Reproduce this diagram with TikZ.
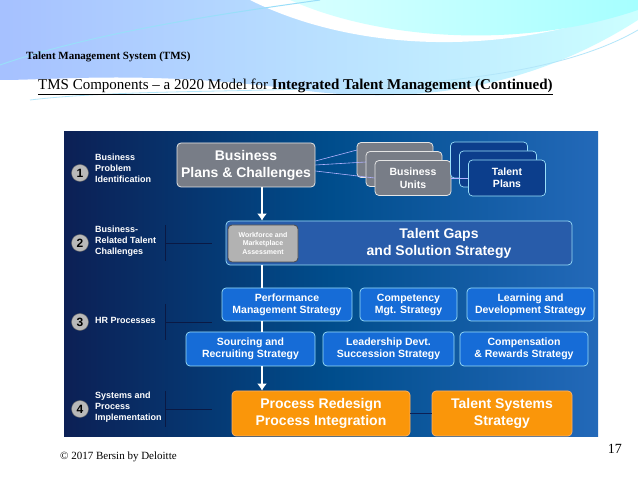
\documentclass[tikz,border=0pt]{standalone}
\usepackage{fontspec}
\setmainfont{Liberation Serif}
\newfontfamily\dsans{Liberation Sans}
\usetikzlibrary{shadings,arrows.meta}
\definecolor{navy}{RGB}{12,32,85}
\definecolor{pblue}{RGB}{35,105,185}
\definecolor{bx}{RGB}{22,108,215}
\definecolor{tpl}{RGB}{12,62,140}
\definecolor{tgf}{RGB}{40,92,170}
\definecolor{gbx}{RGB}{120,125,135}
\definecolor{orng}{RGB}{250,150,10}
\begin{document}
\begin{tikzpicture}[x=1pt,y=-1pt,
 gbox/.style={draw=white!80!gray,line width=0.8pt,rounded corners=4pt,fill=gbx,text=white,font=\dsans\bfseries,align=center,inner sep=0pt},
 bbox/.style={draw=cyan!40!white,line width=0.7pt,rounded corners=4pt,fill=bx,text=white,font=\dsans\bfseries\fontsize{10.5}{12}\selectfont,align=center,inner sep=0pt},
 obox/.style={draw=orange!60!white,line width=0.7pt,rounded corners=4pt,fill=orng,text=white,font=\dsans\bfseries\fontsize{14}{17}\selectfont,align=center,inner sep=0pt},
 num/.style={circle,fill=gray!55,draw=gray!80!black,text=black,font=\dsans\bfseries\fontsize{12}{12}\selectfont,inner sep=0pt,minimum size=17pt},
 lab/.style={text=white,font=\dsans\bfseries\fontsize{9}{11}\selectfont,align=left,anchor=west,inner sep=0pt},
 wline/.style={white!70!blue,line width=0.6pt},
 arr/.style={white,line width=2.5pt,-{Latex[length=7pt,width=10pt]}}
]
\useasboundingbox (0,0) rectangle (638,478);
\fill[white] (0,0) rectangle (638,478);
% top wave
\shade[left color=cyan!30!blue!35,right color=cyan!20] (0,0) -- (638,0) -- (638,20) .. controls (560,70) and (450,110) .. (300,90) .. controls (150,70) and (60,80) .. (0,80) -- cycle;
\fill[white] (250,0) .. controls (350,50) and (500,60) .. (638,5) -- (638,0) -- cycle;
\shade[left color=cyan!15,right color=cyan!35] (290,0) .. controls (380,40) and (520,50) .. (638,10) -- (638,0) -- cycle;
\draw[cyan!40,line width=1pt] (0,65) .. controls (100,30) and (250,10) .. (320,0);
\draw[cyan!30,line width=0.8pt] (30,100) .. controls (200,80) and (500,110) .. (638,30);
\node[anchor=west,font=\fontsize{11}{13}\selectfont\bfseries,inner sep=0] (t1) at (26,57) {Talent Management System (TMS)};
\node[anchor=west,font=\fontsize{15}{17}\selectfont,inner sep=0] (t2) at (38,87) {\underline{TMS Components -- a 2020 Model for \textbf{Integrated Talent Management (Continued)}}};
% panel
\shade[left color=navy,right color=pblue,middle color=blue!45!cyan!55!black] (64,132) rectangle (598,437);
% left labels
\foreach \n/\y in {1/173,2/243,3/322,4/409} \node[num] (n\n) at (80,\y) {\n};
\node[lab] (l1) at (95,168) {Business\\Problem\\Identification};
\node[lab] (l2) at (95,241) {Business-\\Related Talent\\Challenges};
\node[lab] (l3) at (95,320) {HR Processes};
\node[lab] (l4) at (95,407) {Systems and\\Process\\Implementation};
\foreach \y in {243,322,409}{\draw[navy!80!black,line width=0.6pt] (165,\y-18) -- (165,\y+18); \draw[navy!80!black,line width=0.6pt] (165,\y) -- (212,\y);}
% row 1
\node[gbox,font=\dsans\bfseries\fontsize{14}{17}\selectfont,minimum width=138pt,minimum height=44pt] (bp) at (246,165) {Business\\Plans \& Challenges};
\foreach \d in {18,9}{\node[gbox,minimum width=76pt,minimum height=35pt] at (413-\d,178-\d) {};}
\node[gbox,font=\dsans\bfseries\fontsize{10.5}{13}\selectfont,minimum width=76pt,minimum height=35pt] (bu) at (413,178) {Business\\Units};
\foreach \d in {18,9}{\node[bbox,fill=tpl,minimum width=77pt,minimum height=36pt] at (507-\d,178-\d) {};}
\node[bbox,fill=tpl,minimum width=77pt,minimum height=36pt] (tp) at (507,178) {Talent\\Plans};
\draw[wline] (bp.east)+(0,-4) -- (357,150);
\draw[wline] (bp.east) -- (366,162);
\draw[wline] (bp.east)+(0,6) -- (bu.west);
\draw[wline] (bu.east) -- (tp.west);
% row 2
\node[bbox,fill=tgf,minimum width=346pt,minimum height=44pt,font=\dsans\bfseries\fontsize{14}{17}\selectfont] (tg) at (399,243) {\hspace*{80pt}Talent Gaps\\\hspace*{80pt}and Solution Strategy};
\node[gbox,draw=black!70,fill=gray!60,font=\dsans\bfseries\fontsize{7}{8.5}\selectfont,minimum width=70pt,minimum height=37pt] (wf) at (263,243.5) {Workforce and\\Marketplace\\Assessment};
\draw[arr] (bp.south -| 262,0) -- (tg.north -| 262,0);
% row 3
\node[bbox,minimum width=130pt,minimum height=33pt] (pm) at (287,304.5) {Performance\\Management Strategy};
\node[bbox,minimum width=97pt,minimum height=33pt] (cm) at (408.5,304.5) {Competency\\Mgt. Strategy};
\node[bbox,minimum width=127pt,minimum height=33pt] (ld) at (530.5,304.5) {Learning and\\Development Strategy};
\node[bbox,minimum width=129pt,minimum height=34pt] (sr) at (250.5,349) {Sourcing and\\Recruiting Strategy};
\node[bbox,minimum width=131pt,minimum height=34pt] (ls) at (388.5,349) {Leadership Devt.\\Succession Strategy};
\node[bbox,minimum width=128pt,minimum height=34pt] (cr) at (524,349) {Compensation\\\& Rewards Strategy};
% row 4
\node[obox,minimum width=178pt,minimum height=45pt] (pr) at (321,413.5) {Process Redesign\\Process Integration};
\node[obox,minimum width=140pt,minimum height=45pt] (ts) at (502,413.5) {Talent Systems\\Strategy};
\draw[navy,line width=0.6pt] (pr) -- (ts);
\draw[white,line width=2.5pt] (262,265) -- (262,288);
\draw[white,line width=2.5pt] (262,321) -- (262,332);
\draw[arr] (262,366) -- (pr.north -| 262,0);
% footer
\node[anchor=west,font=\fontsize{11}{13}\selectfont,inner sep=0] (ft) at (60,457) {\textcopyright{} 2017 Bersin by Deloitte};
\node[anchor=east,font=\fontsize{14}{16}\selectfont,inner sep=0] (pg) at (622,449) {17};
\end{tikzpicture}
\end{document}
